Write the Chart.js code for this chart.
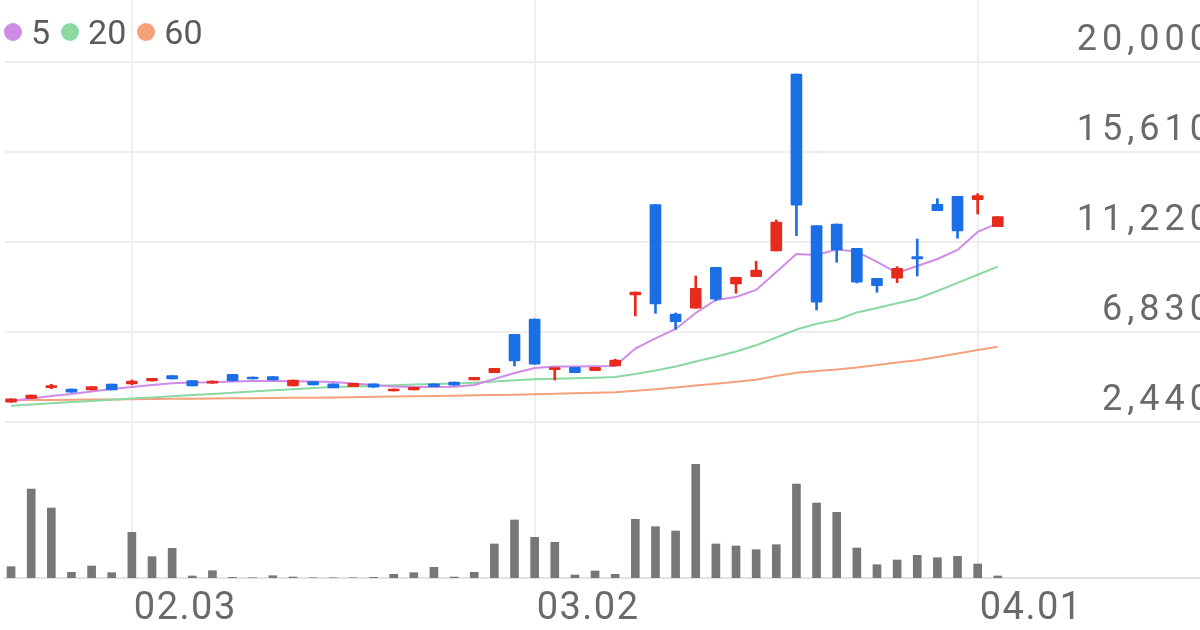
<!DOCTYPE html>
<html lang="ko">
<head>
    <meta charset="UTF-8">
    <title>Candles</title>
    <script src="https://cdn.jsdelivr.net/npm/chart.js"></script>
    <style>
        body { margin: 0; background: #fff; }
        #wrap { position: relative; width: 1200px; height: 630px; overflow: hidden; }
        #legend {
            position: absolute; left: 4px; top: 12px;
            display: flex; align-items: center; gap: 11px;
            font-family: Roboto, sans-serif; font-size: 34px; color: #5a5a5a;
        }
        #legend span.item { display: flex; align-items: center; }
        #legend span.dot { width: 18px; height: 18px; border-radius: 50%; margin-right: 9px; }
    </style>
</head>
<body>
<div id="wrap">
    <canvas id="chart"></canvas>
    <div id="legend"></div>
</div>
<script>
const dates = ['01.26','01.27','01.28','01.29','01.30','02.02','02.03','02.04','02.05','02.06',
    '02.09','02.10','02.11','02.12','02.13','02.16','02.17','02.18','02.19','02.20',
    '02.23','02.24','02.25','02.26','02.27','02.28','03.02','03.03','03.04','03.05',
    '03.06','03.09','03.10','03.11','03.12','03.13','03.16','03.17','03.18','03.19',
    '03.20','03.23','03.24','03.25','03.26','03.27','03.30','03.31','04.01','04.02'];

const opens = [3400,3595,4113,4050,4001,4294,4299,4440,4699,4455,4328,4767,4635,4650,4196,4406,4299,4162,4299,3952,
    4001,4299,4391,4489,4845,6718,7464,4991,5108,4942,5172,8635,13040,7708,7986,9986,9172,9528,10781,19415,
    12016,12099,10913,9450,9450,10503,13059,13450,13290,11967];
const closes = [3565,3755,4196,3889,4162,4001,4440,4572,4538,4196,4440,4440,4538,4489,4489,4245,4104,4328,4133,4050,
    4133,4162,4230,4620,5060,5416,5255,5060,4845,5108,5464,8781,8196,7333,8962,8425,9499,9855,12196,13011,
    8279,10830,9255,9089,9938,10391,12747,11757,13479,12455];
const highs = [3565,3755,4279,4050,4162,4294,4490,4572,4699,4455,4440,4767,4635,4650,4489,4406,4299,4328,4299,4050,
    4133,4299,4391,4620,5060,6718,7464,5080,5108,5108,5500,8781,13040,7757,9562,9986,9499,10279,12294,19415,
    12016,12099,10913,9450,10016,11367,13333,13450,13577,12455];
const lows = [3400,3595,4064,3889,4001,4001,4250,4440,4538,4196,4328,4440,4538,4489,4196,4245,4104,4162,4133,3952,
    4001,4162,4230,4489,4845,5172,5255,4489,4845,4942,5172,7611,7742,6962,7986,8357,8718,9528,10781,11528,
    7903,10230,9220,8767,9235,9562,12747,11401,12586,11967];
const volumes = [11300,89000,70000,5700,12000,5300,45700,21300,29700,2000,7300,700,300,2300,1000,200,200,200,700,3700,
    5300,10700,1000,5700,34000,58000,40700,35700,3000,7000,3700,58700,51300,47000,113700,34000,32000,28300,33300,94000,
    75000,65700,30000,13300,18000,22700,20300,21700,14000,2000];

const ma5 = [3465,3585,3710,3805,3930,4050,4145,4245,4330,4365,4375,4415,4440,4440,4430,4410,4390,4320,4245,4170,
    4150,4150,4160,4245,4540,4830,5075,5140,5150,5160,5170,6025,6515,6975,7757,8390,8540,8880,9760,10635,
    10590,10855,10750,10245,9710,10050,10390,10830,11710,12130];
const ma20 = [3235,3295,3350,3410,3465,3525,3580,3640,3700,3750,3810,3870,3930,3985,4040,4100,4150,4175,4200,4235,
    4265,4295,4320,4350,4415,4475,4530,4550,4575,4600,4635,4780,4950,5150,5390,5625,5880,6180,6560,6950,
    7235,7415,7785,8000,8235,8455,8830,9225,9620,10015];
const ma60 = [3500,3508,3517,3525,3534,3542,3550,3559,3567,3576,3584,3592,3601,3609,3618,3626,3635,3650,3665,3680,
    3695,3710,3725,3740,3755,3770,3790,3815,3840,3865,3890,3960,4040,4120,4220,4310,4400,4500,4685,4845,
    4928,5000,5100,5220,5340,5455,5610,5780,5950,6113];

const priceTicks = [2440, 6830, 11220, 15610, 20000];
const dateTicks = ['02.03', '03.02', '04.01'];

const UP = '#e42b1c', DOWN = '#1a6fe6';
const candleColors = closes.map((c, i) => c >= opens[i] ? UP : DOWN);
const xy = arr => arr.map((v, i) => ({ x: i, y: v }));

const maSets = [
    { label: '5', data: ma5, color: '#d08be8' },
    { label: '20', data: ma20, color: '#8bd8a2' },
    { label: '60', data: ma60, color: '#f4a17c' }
];

// letter spacing on the tick labels, per axis
const tickSpacing = { x: '1.5px', y: '5px' };
const spacing = {
    id: 'spacing',
    beforeDraw(chart) {
        Object.entries(tickSpacing).forEach(([id, sp]) => {
            const scale = chart.scales[id];
            if (!scale || scale._spaced) return;
            const orig = scale.drawLabels.bind(scale);
            scale.drawLabels = area => {
                chart.ctx.letterSpacing = sp;
                orig(area);
                chart.ctx.letterSpacing = '0px';
            };
            scale._spaced = true;
        });
    }
};

new Chart(document.getElementById('chart'), {
    data: {
        datasets: [
            {
                type: 'bar', label: 'body', grouped: false, barThickness: 11, minBarLength: 2,
                data: opens.map((o, i) => ({ x: i, y: [o, closes[i]] })),
                backgroundColor: candleColors, borderRadius: 1, borderSkipped: false
            },
            {
                type: 'bar', label: 'wick', grouped: false, barThickness: 2,
                data: lows.map((l, i) => ({ x: i, y: [l, highs[i]] })),
                backgroundColor: candleColors
            },
            ...maSets.map(m => ({
                type: 'line', label: m.label, data: xy(m.data),
                borderColor: m.color, borderWidth: 2, pointRadius: 0, tension: 0
            })),
            {
                type: 'bar', label: 'volume', yAxisID: 'yv', grouped: false, barThickness: 8,
                data: xy(volumes), backgroundColor: '#777777'
            }
        ]
    },
    options: {
        responsive: true,
        maintainAspectRatio: false,
        animation: false,
        layout: { padding: { left: 5, right: 0, top: 0, bottom: 0 } },
        plugins: { legend: { display: false }, tooltip: { enabled: false } },
        scales: {
            x: {
                type: 'linear', min: -0.3, max: 59.04, offset: false,
                afterBuildTicks: axis => { axis.ticks = dateTicks.map(d => ({ value: dates.indexOf(d) })); },
                afterFit: axis => { axis.height = 52; axis.paddingLeft = 0; axis.paddingRight = 0; },
                ticks: {
                    callback: v => dates[v], align: 'start', labelOffset: 2,
                    autoSkip: false, maxRotation: 0, padding: 9,
                    font: { family: 'Roboto', size: 38 }, color: '#6a6a6a'
                },
                grid: { color: '#efefef', lineWidth: 2, drawTicks: false, offset: false },
                border: { display: true, color: '#e3e3e3', width: 2 }
            },
            y: {
                position: 'right', min: -5171, max: 23024,
                afterBuildTicks: axis => { axis.ticks = priceTicks.map(v => ({ value: v })); },
                afterFit: axis => { axis.width = 0; axis.paddingTop = 0; axis.paddingBottom = 0; },
                ticks: {
                    mirror: true, padding: 15, labelOffset: -21,
                    callback: v => v.toLocaleString('en-US'),
                    font: { family: 'Roboto', size: 36 }, color: '#6a6a6a'
                },
                grid: { color: '#eeeeee', lineWidth: 2, drawTicks: false },
                border: { display: false }
            },
            yv: { display: false, min: 0, max: 578000 }
        }
    },
    plugins: [spacing]
});

// legend as plain markup
document.getElementById('legend').innerHTML = maSets.map(m =>
    `<span class="item"><span class="dot" style="background:${m.color}"></span>${m.label}</span>`).join('');
</script>
</body>
</html>
